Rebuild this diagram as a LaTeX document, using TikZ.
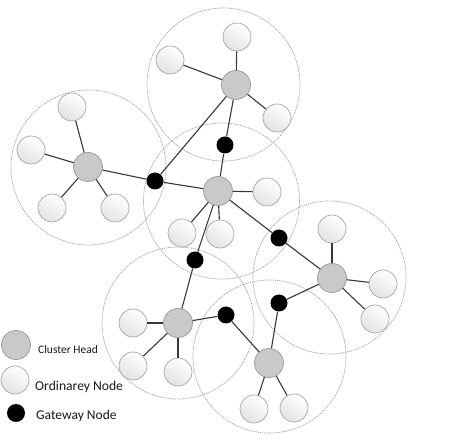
\documentclass[tikz,border=0pt]{standalone}
\usepackage{fontspec}
\setmainfont{Carlito}
\begin{document}
\begin{tikzpicture}[x=1pt,y=-1pt,
  zone/.style={draw=gray!75, dash pattern=on 1.2pt off 0.9pt, line width=0.7pt},
  ord/.style={circle, draw=gray!70, line width=0.7pt, minimum size=28pt, inner sep=0pt,
     shading=axis, top color=white, bottom color=gray!22, shading angle=-30},
  head/.style={circle, draw=gray!80, line width=0.7pt, fill=gray!42, minimum size=29pt, inner sep=0pt},
  gate/.style={circle, fill=black, minimum size=17pt, inner sep=0pt},
  link/.style={draw=black!78, line width=1.1pt},
  lbl/.style={anchor=base west, inner sep=0pt, text=black!90}]
\useasboundingbox (0,0) rectangle (474,443);
\fill[white] (0,0) rectangle (474,443);
% cluster zones
\draw[zone] (223.5,84.5) circle (76.5pt);
\draw[zone] (88.5,167.5) circle (77.5pt);
\draw[zone] (221.5,201) circle (78pt);
\draw[zone] (329.5,277.5) circle (76.5pt);
\draw[zone] (178,323) circle (76pt);
\draw[zone] (269.5,356.5) circle (76.5pt);
% top cluster
\node[head] (h1) at (236,85) {};
\node[ord] (o11) at (237,37) {};
\node[ord] (o12) at (170,60) {};
\node[ord] (o13) at (277,118) {};
% left cluster
\node[head] (h2) at (88,167) {};
\node[ord] (o21) at (72,107) {};
\node[ord] (o22) at (31,150) {};
\node[ord] (o23) at (52,208) {};
\node[ord] (o24) at (115,208) {};
% centre cluster
\node[head] (h3) at (218,191) {};
\node[ord] (o31) at (267,192) {};
\node[ord] (o32) at (182,233) {};
\node[ord] (o33) at (220,234) {};
% right cluster
\node[head] (h4) at (332,278) {};
\node[ord] (o41) at (332,229) {};
\node[ord] (o42) at (383,284) {};
\node[ord] (o43) at (375,319) {};
% bottom-left cluster
\node[head] (h5) at (178,323) {};
\node[ord] (o51) at (133,323) {};
\node[ord] (o52) at (133,366) {};
\node[ord] (o53) at (178,372) {};
% bottom-right cluster
\node[head] (h6) at (269,363) {};
\node[ord] (o61) at (254,409) {};
\node[ord] (o62) at (294,408) {};
% gateways
\node[gate] (g1) at (155,181) {};
\node[gate] (g2) at (225,145) {};
\node[gate] (g3) at (279,238) {};
\node[gate] (g4) at (195,260) {};
\node[gate] (g5) at (226,315) {};
\node[gate] (g6) at (279,303) {};
% links
\draw[link] (h1) -- (o11);
\draw[link] (h1) -- (o12);
\draw[link] (h1) -- (o13);
\draw[link] (h2) -- (o21);
\draw[link] (h2) -- (o22);
\draw[link] (h2) -- (o23);
\draw[link] (h2) -- (o24);
\draw[link] (h3) -- (o31);
\draw[link] (h3) -- (o32);
\draw[link] (h3) -- (o33);
\draw[link] (h4) -- (o41);
\draw[link] (h4) -- (o42);
\draw[link] (h4) -- (o43);
\draw[link] (h5) -- (o51);
\draw[link] (h5) -- (o52);
\draw[link] (h5) -- (o53);
\draw[link] (h6) -- (o61);
\draw[link] (h6) -- (o62);
\draw[link] (h2) -- (g1);
\draw[link] (g1) -- (h3);
\draw[link] (g1) -- (h1);
\draw[link] (h1) -- (g2);
\draw[link] (g2) -- (h3);
\draw[link] (h3) -- (g3);
\draw[link] (g3) -- (h4);
\draw[link] (h3) -- (g4);
\draw[link] (g4) -- (h5);
\draw[link] (h5) -- (g5);
\draw[link] (g5) -- (h6);
\draw[link] (h4) -- (g6);
\draw[link] (g6) -- (h6);
% legend
\node[head] (lh) at (16,345) {};
\node[ord] (lo) at (15,380) {};
\node[gate, minimum size=18pt] (lg) at (16,413) {};
\node[lbl, font=\fontsize{11.5}{13}\selectfont] (t1) at (38,354) {Cluster Head};
\node[lbl, font=\fontsize{13.6}{15}\selectfont] (t2) at (35,391) {Ordinarey Node};
\node[lbl, font=\fontsize{13.5}{15}\selectfont] (t3) at (36,420) {Gateway Node};
\end{tikzpicture}
\end{document}
